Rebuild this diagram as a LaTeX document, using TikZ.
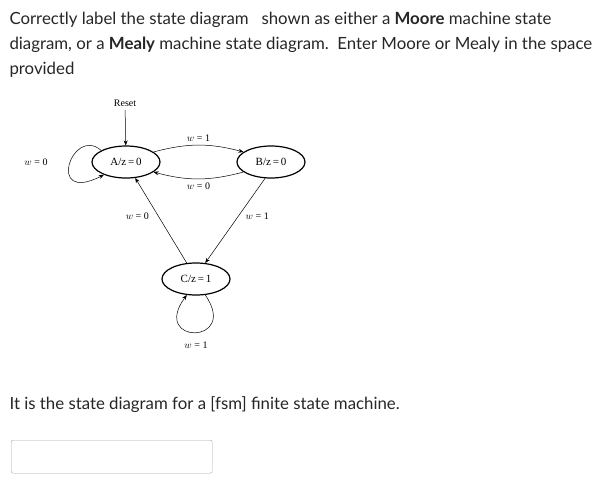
\documentclass[tikz,border=0pt]{standalone}
\usepackage{fontspec}
\setmainfont{Lato}
\newfontfamily\diag{Liberation Serif}
\usetikzlibrary{shapes.geometric,arrows.meta}
\begin{document}
\begin{tikzpicture}[x=1pt,y=-1pt,
  st/.style={ellipse,draw,line width=1.2pt,minimum width=68pt,minimum height=32pt,inner sep=0pt,font=\diag\fontsize{11}{13}\selectfont},
  lbl/.style={font=\diag\fontsize{10}{12}\selectfont},
  tr/.style={-{Stealth[length=5pt,width=4pt]},line width=0.5pt},
  txt/.style={anchor=west,font=\fontsize{16.8}{20}\selectfont,text=black!85}]
\useasboundingbox (0,0) rectangle (600,488);
\node[txt] (t1) at (6,20) {Correctly label the state diagram \ \ shown as either a \textbf{Moore} machine state};
\node[txt] (t2) at (6,45) {diagram, or a \textbf{Mealy} machine state diagram.\ \ Enter Moore or Mealy in the space};
\node[txt] (t3) at (6,70) {provided};
\node[txt] (t4) at (6,405) {It is the state diagram for a [fsm] finite state machine.};
\node[draw=black!35,rounded corners=2pt,minimum width=201pt,minimum height=33pt,anchor=north west] (box) at (11,440) {};
\node[st] (A) at (126,162) {A/z\,=\,0};
\node[st] (B) at (271,162) {B/z\,=\,0};
\node[st] (C) at (196,279) {C/z\,=\,1};
\node[font=\diag\fontsize{10}{12}\selectfont] (R) at (125,103) {Reset};
\draw[tr] (R) -- (A);
\draw[tr] (A.155) .. controls (72,125) and (45,205) .. (A.210);
\node[lbl] (l1) at (36,162) {$w$ = 0};
\draw[tr] (A.20) to[bend left=15] node[lbl,above] {$w$ = 1} (B.160);
\draw[tr] (B.200) to[bend left=15] node[lbl,below] {$w$ = 0} (A.340);
\draw[tr] (B.250) -- node[lbl,right,pos=0.45,xshift=4pt] {$w$ = 1} (C.60);
\draw[tr] (C.120) -- node[lbl,left,pos=0.55,xshift=-6pt] {$w$ = 0} (A.300);
\draw[tr] (C.300) .. controls (240,345) and (150,345) .. (C.240);
\node[lbl] (l2) at (196,345) {$w$ = 1};
\end{tikzpicture}
\end{document}
